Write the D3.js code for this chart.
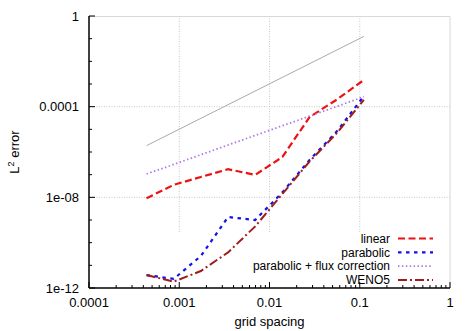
<!DOCTYPE html>
<html>
<head>
<meta charset="utf-8">
<script src="https://cdn.jsdelivr.net/npm/d3@7"></script>
<style>
  body { margin: 0; background: #fff; }
  text { font-family: "Liberation Sans", Arial, Helvetica, sans-serif; }
</style>
</head>
<body>
<div id="chart"></div>
<script>
// grid spacings h = 1/(9*2^k), k = 8..0
const spacing = [1/2304, 1/1152, 1/576, 1/288, 1/144, 1/72, 1/36, 1/18, 1/9];

// log10 of the L2 error for each scheme
const linear    = [-8.04, -7.45, -7.10, -6.76, -7.01, -6.22, -4.46, -3.69, -2.82];
const parabolic = [-11.43, -11.60, -10.59, -8.87, -9.00, -7.78, -6.35, -5.10, -3.53];
const fluxCorr  = [-6.97, -6.55, -6.12, -5.69, -5.27, -4.84, -4.42, -3.99, -3.56];
const weno5     = [-11.43, -11.72, -11.25, -10.43, -9.28, -7.85, -6.42, -5.17, -3.70];

// reference slope line (endpoints)
const refX = [1/2304, 1/9];
const refY = [-5.72, -0.90];

const xTicks = [1e-4, 1e-3, 1e-2, 1e-1, 1];
const xTickLabels = ["0.0001", "0.001", "0.01", "0.1", "1"];
const yTicks = [1, 1e-4, 1e-8, 1e-12];
const yTickLabels = ["1", "0.0001", "1e-08", "1e-12"];

const series = [
  { name: "linear", vals: linear, color: "#ee1111", width: 2.2, dash: "7,3.5" },
  { name: "parabolic", vals: parabolic, color: "#1111ee", width: 2.2, dash: "3.5,4.5" },
  { name: "parabolic + flux correction", vals: fluxCorr, color: "#b27ae6", width: 1.8, dash: "1.5,2.4" },
  { name: "WENO5", vals: weno5, color: "#a01c1c", width: 2, dash: "9,3,2,3" }
];

const W = 474, H = 331;
const margin = { top: 16, right: 24, bottom: 43, left: 89 };
const width = W - margin.left - margin.right;
const height = H - margin.top - margin.bottom;

const svg = d3.select("#chart").append("svg")
  .attr("width", W).attr("height", H);

const chart = svg.append("g")
  .attr("transform", `translate(${margin.left},${margin.top})`);

const x = d3.scaleLog().domain([1e-4, 1]).range([0, width]);
const y = d3.scaleLog().domain([1e-12, 1]).range([height, 0]);

const keyTop = 216; // the key box hides the lower ends of the vertical grid

// grid
chart.selectAll(".vgrid").data([1e-3, 1e-2, 1e-1]).enter().append("line")
  .attr("x1", d => x(d)).attr("x2", d => x(d))
  .attr("y1", 0).attr("y2", keyTop)
  .attr("stroke", "#c8c8c8").attr("stroke-width", 1).attr("stroke-dasharray", "1,1.5");
chart.selectAll(".hgrid").data([1e-4, 1e-8]).enter().append("line")
  .attr("x1", 0).attr("x2", width)
  .attr("y1", d => y(d)).attr("y2", d => y(d))
  .attr("stroke", "#c8c8c8").attr("stroke-width", 1).attr("stroke-dasharray", "1,1.5");

// light frame on top and right
chart.append("path")
  .attr("d", `M0,0.5H${width}V${height}`)
  .attr("fill", "none").attr("stroke", "#d8d8d8").attr("stroke-width", 1);

// reference line
chart.append("path")
  .datum(refX.map((h, i) => [h, Math.pow(10, refY[i])]))
  .attr("d", d3.line().x(d => x(d[0])).y(d => y(d[1])))
  .attr("fill", "none").attr("stroke", "#aaaaaa").attr("stroke-width", 1);

const line = d3.line().x(d => x(d[0])).y(d => y(d[1]));

series.forEach(s => {
  chart.append("path")
    .datum(spacing.map((h, i) => [h, Math.pow(10, s.vals[i])]))
    .attr("d", line)
    .attr("fill", "none")
    .attr("stroke", s.color)
    .attr("stroke-width", s.width)
    .attr("stroke-dasharray", s.dash);
});

// axes: ticks point inward
const xMinor = [];
for (let e = -4; e < 0; e++) for (let m = 2; m <= 9; m++) xMinor.push(m * Math.pow(10, e));
const yMinor = [];
for (let e = -11; e < 0; e++) if (e % 4 !== 0) yMinor.push(Math.pow(10, e));

const xAxis = chart.append("g").attr("transform", `translate(0,${height})`);
xAxis.append("line").attr("x1", 0).attr("x2", width).attr("stroke", "#000").attr("stroke-width", 1.5);
xAxis.selectAll(".maj").data(xTicks).enter().append("line")
  .attr("x1", d => x(d)).attr("x2", d => x(d)).attr("y1", 0).attr("y2", -6)
  .attr("stroke", "#000");
xAxis.selectAll(".min").data(xMinor).enter().append("line")
  .attr("x1", d => x(d)).attr("x2", d => x(d)).attr("y1", 0).attr("y2", -3)
  .attr("stroke", "#000");
xAxis.selectAll(".lab").data(xTicks).enter().append("text")
  .attr("x", d => x(d)).attr("y", 18.5)
  .attr("text-anchor", "middle").attr("font-size", 13)
  .text((d, i) => xTickLabels[i]);

const yAxis = chart.append("g");
yAxis.append("line").attr("y1", 0).attr("y2", height).attr("stroke", "#000").attr("stroke-width", 1.5);
yAxis.selectAll(".maj").data(yTicks).enter().append("line")
  .attr("y1", d => y(d)).attr("y2", d => y(d)).attr("x1", 0).attr("x2", 6)
  .attr("stroke", "#000");
yAxis.selectAll(".min").data(yMinor).enter().append("line")
  .attr("y1", d => y(d)).attr("y2", d => y(d)).attr("x1", 0).attr("x2", 3)
  .attr("stroke", "#000");
yAxis.selectAll(".lab").data(yTicks).enter().append("text")
  .attr("x", -10).attr("y", d => y(d) + 4.5)
  .attr("text-anchor", "end").attr("font-size", 13)
  .text((d, i) => yTickLabels[i]);

// axis titles
svg.append("text")
  .attr("x", margin.left + x(0.01)).attr("y", 326)
  .attr("text-anchor", "middle").attr("font-size", 13)
  .text("grid spacing");

const yTitle = svg.append("text")
  .attr("transform", `translate(19,${margin.top + height / 2}) rotate(-90)`)
  .attr("text-anchor", "middle").attr("font-size", 13);
yTitle.append("tspan").text("L");
yTitle.append("tspan").attr("dy", -5).attr("font-size", 9).text("2");
yTitle.append("tspan").attr("dy", 5).text(" error");

// key
const legend = chart.selectAll(".legend").data(series).enter().append("g")
  .attr("transform", (d, i) => `translate(0,${222.5 + i * 13.8})`);
legend.append("text")
  .attr("x", 301).attr("y", 4.3)
  .attr("text-anchor", "end").attr("font-size", 12)
  .text(d => d.name);
legend.append("line")
  .attr("x1", 309).attr("x2", 344)
  .attr("stroke", d => d.color)
  .attr("stroke-width", d => d.width)
  .attr("stroke-dasharray", d => d.dash);
</script>
</body>
</html>
